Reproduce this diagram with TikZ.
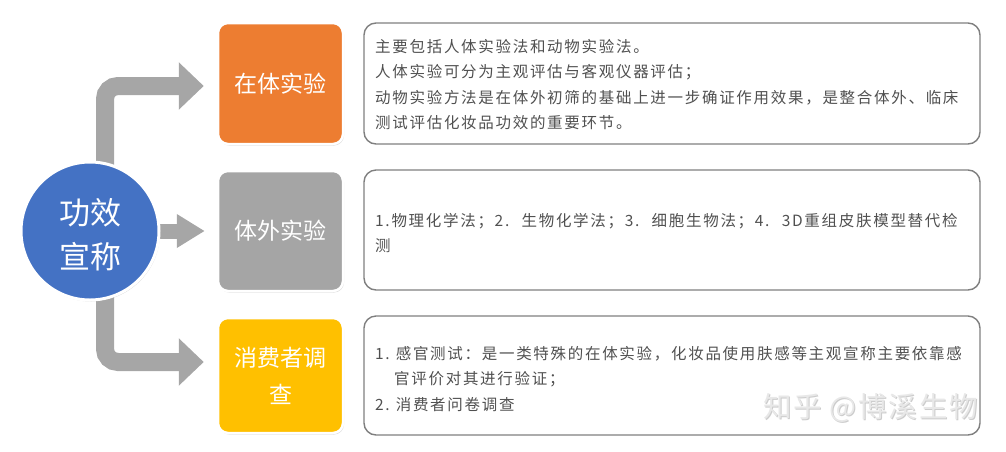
\documentclass[tikz,border=0pt]{standalone}
\usepackage{fontspec}
\newfontfamily\cjk{Noto Sans CJK SC}
\newfontfamily\bodyf[LetterSpace=11]{Noto Sans CJK SC}
\newfontfamily\wmf[LetterSpace=6]{Noto Sans CJK SC}
\usetikzlibrary{arrows.meta,shadows,backgrounds}
\definecolor{corange}{HTML}{ED7D31}
\definecolor{cgray}{HTML}{A5A5A5}
\definecolor{cyellow}{HTML}{FFC000}
\definecolor{cblue}{HTML}{4472C4}
\definecolor{carrow}{HTML}{A6A6A6}
\definecolor{cborder}{HTML}{7F7F7F}
\definecolor{ctext}{HTML}{505050}
\definecolor{wmlight}{HTML}{E8E8E8}
\definecolor{wmdark}{HTML}{CCCCCC}
\begin{document}
\begin{tikzpicture}[x=1pt,y=-1pt,
  catbox/.style={draw=white, line width=2.5pt, rounded corners=10pt,
    minimum width=125pt, text=white, align=center, inner sep=0pt,
    font=\cjk\fontsize{23}{37}\selectfont,
    drop shadow={opacity=0.3, shadow xshift=1pt, shadow yshift=-1.5pt}},
  textbox/.style={draw=cborder, line width=1.4pt, rounded corners=12pt,
    minimum width=616pt, inner sep=0pt, text=ctext},
  bodytext/.style={text width=600pt, align=left, inner sep=0pt, text=ctext,
    font=\bodyf\fontsize{15.5}{25.5}\selectfont},
  bigarrow/.style={draw=carrow, line width=18pt, rounded corners=13pt,
    -{Triangle[width=46pt,length=25pt]}, shorten >=13pt},
  midarrow/.style={draw=carrow, line width=15pt,
    -{Triangle[width=32pt,length=28pt]}, shorten >=12pt},
  watermark/.style={font=\wmf\fontsize{28.5}{30}\selectfont, inner sep=0pt}
]
\useasboundingbox (0,0) rectangle (1006,451);

% centre circle
\node[circle, fill=cblue, draw=white, line width=3pt, minimum size=138pt,
  inner sep=0pt,
  drop shadow={opacity=0.3, shadow xshift=1pt, shadow yshift=-1.5pt}]
  (c) at (90,231) {};
\node[text=white, align=center, inner sep=0pt,
  font=\cjk\fontsize{31}{44}\selectfont] (ct) at (90,235) {功效\\宣称};

% category boxes
\node[catbox, fill=corange, minimum height=121pt] (o) at (280.5,83.5) {在体实验};
\node[catbox, fill=cgray, minimum height=120pt] (g) at (280.5,231) {体外实验};
\node[catbox, fill=cyellow, minimum height=115pt] (y) at (280.5,375.5) {消费者调\\查};

% arrows
\begin{pgfonlayer}{background}
\draw[bigarrow] ([xshift=15pt]c.center) |- ([yshift=-2.5pt]o.west);
\draw[midarrow] (c.center) -- (g.west);
\draw[bigarrow] ([xshift=15pt]c.center) |- ([yshift=13.5pt]y.west);
\end{pgfonlayer}

% text boxes
\node[textbox, minimum height=121pt] (b1) at (672,83.5) {};
\node[textbox, minimum height=120pt] (b2) at (672,230) {};
\node[textbox, minimum height=119pt] (b3) at (672,375.5) {};

\node[bodytext, anchor=north west] (t1) at (375,39)
  {主要包括人体实验法和动物实验法。\\
   人体实验可分为主观评估与客观仪器评估；\\
   动物实验方法是在体外初筛的基础上进一步确证作用效果，是整合体外、临床\\
   测试评估化妆品功效的重要环节。};
\node[bodytext, anchor=north west] (t2) at (375,213)
  {1.物理化学法；2.\hspace{4.5pt} 生物化学法；3.\hspace{4.5pt} 细胞生物法；4.\hspace{4.5pt} 3D重组皮肤模型替代检\\
   测};
\node[bodytext, anchor=north west] (t3) at (375,346)
  {1.\hspace{6pt}感官测试：是一类特殊的在体实验，化妆品使用肤感等主观宣称主要依靠感\\
   \hspace*{19pt}官评价对其进行验证；\\
   2.\hspace{6pt}消费者问卷调查};

% watermark
\node[watermark, text=wmdark, anchor=west] (wm0) at (764,409) {知乎 @博溪生物};
\node[watermark, text=wmlight, anchor=west] (wm) at (763,408) {知乎 @博溪生物};
\end{tikzpicture}
\end{document}
